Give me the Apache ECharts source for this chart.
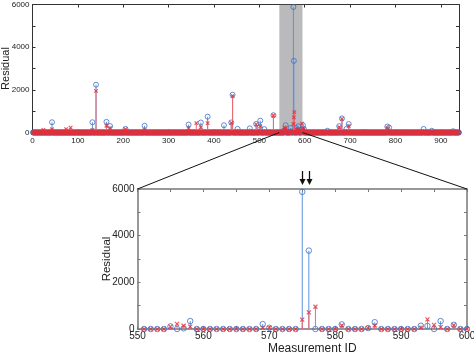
<!DOCTYPE html>
<html>
<head>
<meta charset="utf-8">
<script src="https://cdn.jsdelivr.net/npm/echarts@6/dist/echarts.min.js"></script>
<style>
  html, body { margin: 0; padding: 0; background: #fff; }
  #chart { width: 474px; height: 354px; }
</style>
</head>
<body>
<div id="chart"></div>
<script>
// measurement id range and the highlighted window
const idRange = [1, 940]
const bandRange = [544, 595]
const detailRange = [550, 600]
const arrowIds = [575, 576]

// detail window values, ids 551..600
const detailIds = [
  551, 552, 553, 554, 555, 556, 557, 558, 559, 560,
  561, 562, 563, 564, 565, 566, 567, 568, 569, 570,
  571, 572, 573, 574, 575, 576, 577, 578, 579, 580,
  581, 582, 583, 584, 585, 586, 587, 588, 589, 590,
  591, 592, 593, 594, 595, 596, 597, 598, 599, 600
]
const blueDetail = [
  0, 0, 0, 0, 110, 0, 30, 340, 0, 0,
  0, 0, 0, 0, 0, 0, 0, 0, 210, 50,
  0, 0, 0, 0, 5880, 3360, 0, 0, 0, 0,
  200, 0, 0, 0, 40, 290, 0, 0, 0, 0,
  0, 0, 140, 130, 0, 340, 0, 180, 0, 0
]
const redDetail = [
  0, 0, 0, 0, 100, 220, 140, 100, 0, 0,
  0, 0, 0, 0, 0, 0, 0, 0, 50, 50,
  0, 0, 0, 0, 400, 710, 955, 0, 0, 0,
  150, 0, 0, 0, 40, 150, 0, 0, 0, 0,
  0, 0, 60, 415, 180, 80, 0, 160, 0, 0
]

// larger residuals outside the window (everything else reads as ~0)
const blueSpikeIds = [43, 132, 140, 163, 171, 205, 247, 344, 371, 386, 422, 438, 441, 452, 479, 493, 501, 502, 511, 531, 650, 676, 682, 692, 697, 782, 786, 862, 880, 927]
const blueSpikeVals = [480, 480, 2240, 500, 300, 170, 315, 370, 470, 740, 340, 470, 1770, 170, 195, 400, 240, 555, 160, 810, 80, 300, 660, 170, 395, 280, 230, 165, 80, 60]
const redSpikeIds = [24, 43, 74, 84, 132, 140, 163, 171, 205, 247, 344, 361, 371, 386, 438, 441, 493, 502, 531, 676, 682, 697, 730, 782]
const redSpikeVals = [120, 150, 160, 230, 120, 1950, 320, 200, 150, 120, 200, 440, 250, 440, 450, 1700, 380, 300, 800, 250, 640, 300, 60, 200]

const yTicks = [0, 2000, 4000, 6000]

const BLUE = '#3d6fc4'
const BLUE_STEM = '#5e90da'
const RED = '#e3303a'
const RED_STEM = '#ee6a6e'
const CROSS = 'path://M0,0L10,10M10,0L0,10'

const buildFull = (spikeIds, spikeVals, detail) => {
  const vals = {}
  for (let id = idRange[0]; id <= idRange[1]; id++) vals[id] = 0
  detailIds.forEach((id, i) => { vals[id] = detail[i] })
  spikeIds.forEach((id, i) => { vals[id] = spikeVals[i] })
  return Object.keys(vals).map((k) => [Number(k), vals[k]])
}

const blueFull = buildFull(blueSpikeIds, blueSpikeVals, blueDetail)
const redFull = buildFull(redSpikeIds, redSpikeVals, redDetail)
const blueZoom = detailIds.map((id, i) => [id, blueDetail[i]])
const redZoom = detailIds.map((id, i) => [id, redDetail[i]])

const stemRender = (color) => (params, api) => {
  const base = api.coord([api.value(0), 0])
  const top = api.coord([api.value(0), api.value(1)])
  return {
    type: 'line',
    shape: { x1: base[0], y1: base[1], x2: top[0], y2: top[1] },
    style: { stroke: color, lineWidth: 1 },
  }
}

const labelFmt = (step) => (v) => (v % step === 0 ? String(v) : '')

const axisCommon = (color, width) => ({
  axisLine: { show: true, onZero: false, lineStyle: { color, width: width || 1 } },
  axisTick: { show: true, inside: true, length: 3, lineStyle: { color } },
  splitLine: { show: false },
})

const chart = echarts.init(document.getElementById('chart'), null, { renderer: 'canvas' })

const textColor = '#222'
const font = 'Liberation Sans, Arial, sans-serif'

chart.setOption({
  animation: false,
  grid: [
    { left: 32.5, top: 4.5, width: 426.5, height: 128, show: false, outerBoundsMode: 'none' },
    { left: 137.5, top: 189, width: 329.5, height: 140, show: false, outerBoundsMode: 'none' },
  ],
  xAxis: [
    {
      type: 'value', gridIndex: 0, min: 0, max: 940, interval: 100,
      ...axisCommon('#333'),
      axisLabel: { fontSize: 8, margin: 4, color: textColor, fontFamily: font, showMaxLabel: false, formatter: labelFmt(100) },
    },
    {
      type: 'value', gridIndex: 0, min: 0, max: 940, interval: 100, position: 'top',
      ...axisCommon('#333'),
      axisLabel: { show: false },
    },
    {
      type: 'value', gridIndex: 1, min: detailRange[0], max: detailRange[1], interval: 5,
      ...axisCommon('#777', 1.5),
      axisLabel: { fontSize: 10, margin: 2, color: textColor, fontFamily: font, formatter: labelFmt(10) },
      name: 'Measurement ID', nameLocation: 'middle', nameGap: 14, nameMoveOverlap: false,
      nameTextStyle: { fontSize: 12, color: textColor, fontFamily: font, padding: [0, 0, 0, 20] },
    },
    {
      type: 'value', gridIndex: 1, min: detailRange[0], max: detailRange[1], interval: 5, position: 'top',
      ...axisCommon('#777', 1.5),
      axisLabel: { show: false },
    },
  ],
  yAxis: [
    {
      type: 'value', gridIndex: 0, min: yTicks[0], max: yTicks[yTicks.length - 1], interval: 1000,
      ...axisCommon('#333'),
      axisLabel: { fontSize: 8, margin: 3, color: textColor, fontFamily: font, formatter: labelFmt(2000) },
      name: 'Residual', nameLocation: 'middle', nameGap: 21, nameMoveOverlap: false,
      nameTextStyle: { fontSize: 11, color: textColor, fontFamily: font },
    },
    {
      type: 'value', gridIndex: 0, min: 0, max: 6000, interval: 1000, position: 'right',
      ...axisCommon('#333'),
      axisLabel: { show: false },
    },
    {
      type: 'value', gridIndex: 1, min: yTicks[0], max: yTicks[yTicks.length - 1], interval: 1000,
      ...axisCommon('#777', 1.5),
      axisLabel: { fontSize: 10, margin: 3, color: textColor, fontFamily: font, formatter: labelFmt(2000) },
      name: 'Residual', nameLocation: 'middle', nameGap: 25, nameMoveOverlap: false,
      nameTextStyle: { fontSize: 11.5, color: textColor, fontFamily: font },
    },
    {
      type: 'value', gridIndex: 1, min: 0, max: 6000, interval: 1000, position: 'right',
      ...axisCommon('#777', 1.5),
      axisLabel: { show: false },
    },
  ],
  series: [
    // overview
    { type: 'custom', xAxisIndex: 0, yAxisIndex: 0, renderItem: stemRender(BLUE_STEM), data: blueFull, z: 2 },
    {
      type: 'scatter', xAxisIndex: 0, yAxisIndex: 0, data: blueFull, symbol: 'circle', symbolSize: 5,
      itemStyle: { color: 'transparent', borderColor: BLUE, borderWidth: 1 }, z: 3, silent: true,
    },
    { type: 'custom', xAxisIndex: 0, yAxisIndex: 0, renderItem: stemRender(RED_STEM), data: redFull, z: 4 },
    {
      type: 'scatter', xAxisIndex: 0, yAxisIndex: 0, data: redFull, symbol: CROSS, symbolSize: 3.5,
      itemStyle: { color: 'transparent', borderColor: RED, borderWidth: 1.3 }, z: 5, silent: true,
    },
    {
      type: 'scatter', xAxisIndex: 0, yAxisIndex: 0, data: [], z: 10, silent: true,
      markArea: {
        silent: true,
        itemStyle: { color: 'rgba(110,110,115,0.48)' },
        data: [[{ xAxis: bandRange[0] }, { xAxis: bandRange[1] }]],
      },
    },
    // detail window
    { type: 'custom', xAxisIndex: 2, yAxisIndex: 2, renderItem: stemRender(BLUE_STEM), data: blueZoom, z: 2 },
    {
      type: 'scatter', xAxisIndex: 2, yAxisIndex: 2, data: blueZoom, symbol: 'circle', symbolSize: 5.5,
      itemStyle: { color: 'transparent', borderColor: BLUE, borderWidth: 1 }, z: 3, silent: true,
    },
    { type: 'custom', xAxisIndex: 2, yAxisIndex: 2, renderItem: stemRender(RED_STEM), data: redZoom, z: 4 },
    {
      type: 'scatter', xAxisIndex: 2, yAxisIndex: 2, data: redZoom, symbol: CROSS, symbolSize: 4,
      itemStyle: { color: 'transparent', borderColor: RED, borderWidth: 1.2 }, z: 5, silent: true,
    },
  ],
})

// zoom connector lines and arrows, placed from the axes
const bandL = chart.convertToPixel({ xAxisIndex: 0, yAxisIndex: 0 }, [bandRange[0], 0])
const bandR = chart.convertToPixel({ xAxisIndex: 0, yAxisIndex: 0 }, [bandRange[1], 0])
const zoomTL = chart.convertToPixel({ xAxisIndex: 2, yAxisIndex: 2 }, [detailRange[0], 6000])
const zoomTR = chart.convertToPixel({ xAxisIndex: 2, yAxisIndex: 2 }, [detailRange[1], 6000])

const graphics = [
  { type: 'line', shape: { x1: bandL[0], y1: bandL[1], x2: zoomTL[0], y2: zoomTL[1] }, style: { stroke: '#111', lineWidth: 1 }, z: 20 },
  { type: 'line', shape: { x1: bandR[0], y1: bandR[1], x2: zoomTR[0], y2: zoomTR[1] }, style: { stroke: '#111', lineWidth: 1 }, z: 20 },
]
arrowIds.forEach((id) => {
  const p = chart.convertToPixel({ xAxisIndex: 2, yAxisIndex: 2 }, [id, 6000])
  const x = Math.round(p[0]) + 0.5
  graphics.push({ type: 'line', shape: { x1: x, y1: p[1] - 18, x2: x, y2: p[1] - 8 }, style: { stroke: '#111', lineWidth: 1.3 }, z: 20 })
  graphics.push({ type: 'polygon', shape: { points: [[x - 3, p[1] - 10], [x + 3, p[1] - 10], [x, p[1] - 4]] }, style: { fill: '#111' }, z: 20 })
})
chart.setOption({ graphic: graphics })
</script>
</body>
</html>
